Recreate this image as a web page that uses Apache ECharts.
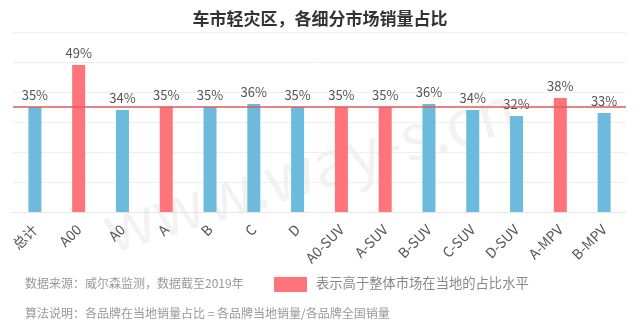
<!DOCTYPE html>
<html><head><meta charset="utf-8">
<script src="https://cdn.jsdelivr.net/npm/echarts@6/dist/echarts.min.js"></script>
<style>html,body{margin:0;padding:0;background:#fff}#c{width:640px;height:327px}</style>
</head><body><div id="c"></div>
<script>
const categories = ['总计','A00','A0','A','B','C','D','A0-SUV','A-SUV','B-SUV','C-SUV','D-SUV','A-MPV','B-MPV'];
const values = [35,49,34,35,35,36,35,35,35,36,34,32,38,33];
const highlighted = [false,true,false,true,false,false,false,true,true,false,false,false,true,false];
const referenceValue = 35;
const titleText = '车市轻灾区，各细分市场销量占比';
const sourceText = '数据来源：威尔森监测，数据截至2019年';
const legendText = '表示高于整体市场在当地的占比水平';
const methodText = '算法说明：各品牌在当地销量占比 = 各品牌当地销量/各品牌全国销量';

const BLUE = '#6dbbdc', RED = '#ff737a';
const FONT = '"Noto Sans CJK SC", "Noto Sans", sans-serif';
const chart = echarts.init(document.getElementById('c'));
chart.setOption({
  animation: false,
  textStyle: {fontFamily: FONT},
  title: {text: titleText, left: 'center', top: 5,
    textStyle: {fontSize: 17, fontWeight: 'bold', color: '#333', fontFamily: FONT}},
  grid: {left: 13, right: 14, top: 32, bottom: 115},
  xAxis: {type: 'category', data: categories,
    axisLine: {lineStyle: {color: '#e6e6e6'}}, axisTick: {show: false},
    axisLabel: {rotate: 45, color: '#555', fontSize: 14, margin: 15, interval: 0, fontFamily: FONT}},
  yAxis: {type: 'value', min: 0, max: 60, interval: 10,
    axisLabel: {show: false}, axisLine: {show: false}, axisTick: {show: false},
    splitLine: {lineStyle: {color: '#eeeeee'}}},
  series: [{
    type: 'bar', barWidth: 13,
    data: values.map((v, i) => ({value: v, itemStyle: {color: highlighted[i] ? RED : BLUE}})),
    label: {show: true, position: 'top', distance: 5, formatter: '{c}%', color: '#555', fontSize: 13, fontFamily: FONT},
    markLine: {silent: true, symbol: 'none', label: {show: false},
      lineStyle: {color: '#de5a62', width: 1.5, type: 'solid'},
      data: [{yAxis: referenceValue}]}
  }],
  graphic: [
    {type: 'text', left: 25, top: 277, style: {text: sourceText, fill: '#999', font: '12px ' + FONT}},
    {type: 'rect', left: 274, top: 277, shape: {width: 33, height: 15}, style: {fill: RED}},
    {type: 'text', left: 316, top: 276, style: {text: legendText, fill: '#888', font: '13.3px ' + FONT}},
    {type: 'text', left: 25, top: 307, style: {text: methodText, fill: '#999', font: '12px ' + FONT}},
    {type: 'text', x: 95, y: 200, rotation: 17 * Math.PI / 180, z: -1, silent: true,
      style: {text: 'www.way-s.cn', fill: 'rgba(0,0,0,0.05)', font: '64px ' + FONT}}
  ]
});
</script></body></html>
